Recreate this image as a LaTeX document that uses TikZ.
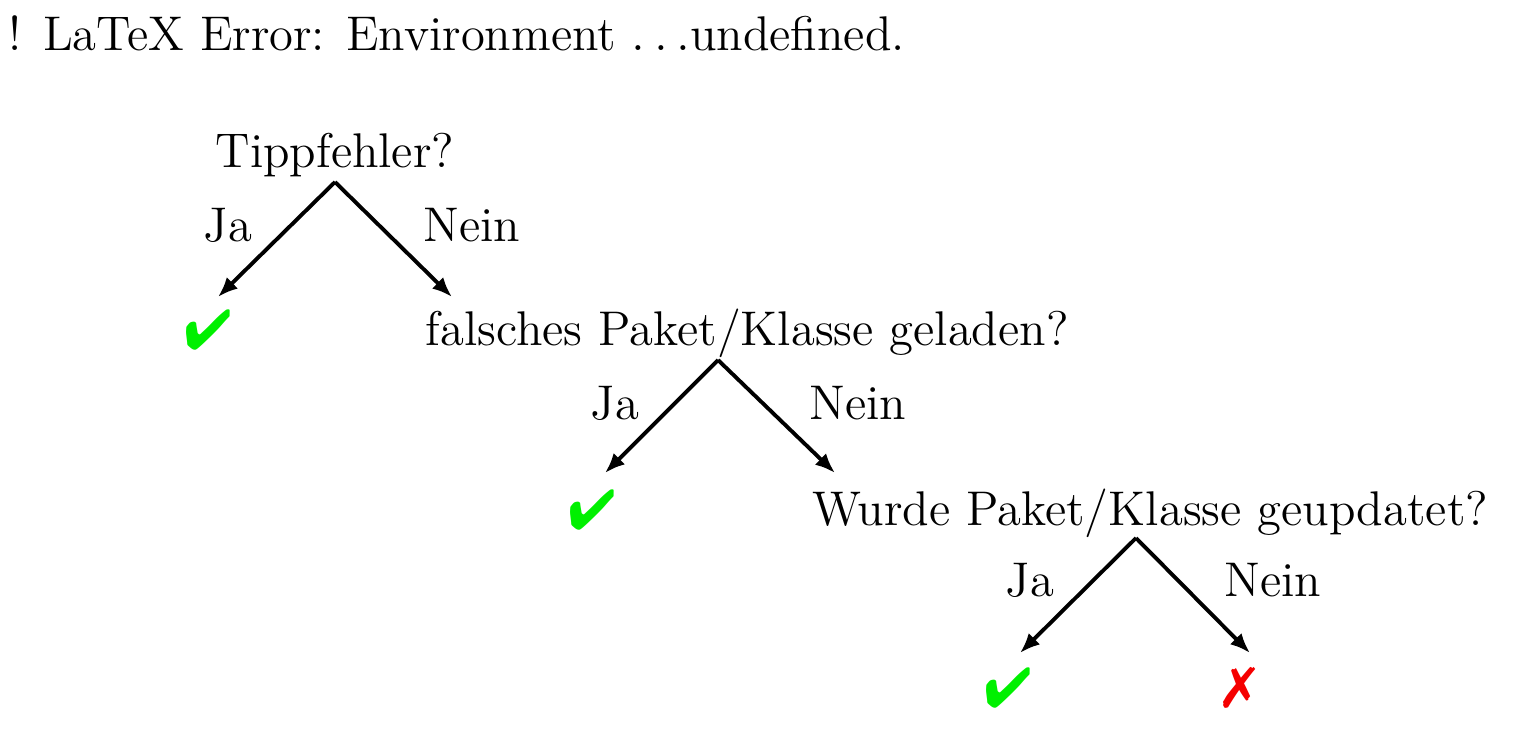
\documentclass[tikz,border=0pt]{standalone}
\usepackage{pifont}
\usetikzlibrary{arrows.meta,positioning}
\definecolor{okgreen}{RGB}{0,240,0}
\definecolor{badred}{RGB}{245,0,0}
\begin{document}
\begin{tikzpicture}[
    x=0.01cm, y=-0.01cm,
    >={Latex[length=2mm,width=1.6mm]}, % arrow head style
    every node/.style={font=\fontsize{13.85}{16}\selectfont, inner sep=0pt},
    branch/.style={->, line width=1.1pt},
    ok/.style={text=okgreen, font=\fontsize{16}{16}\selectfont},
    bad/.style={text=badred, font=\fontsize{16}{16}\selectfont}
    ]
    \useasboundingbox (0,0) rectangle (1527,733);

    \node[anchor=base west] (err) at (8,50) {! LaTeX Error: Environment $\ldots$undefined.};

    % first question
    \node (q1) at (335,155) {Tippfehler?};
    \coordinate (a1) at (335,182);
    \coordinate (y1) at (218,297);
    \coordinate (n1) at (452,297);
    \draw[branch] (a1) -- (y1);
    \draw[branch] (a1) -- (n1);
    \node (ja1) at (228,225) {Ja};
    \node (nein1) at (472,225) {Nein};
    \node[ok] (ok1) at (208,330) {\ding{52}};

    % second question
    \node[anchor=west] (q2) at (425,333) {falsches Paket/Klasse geladen?};
    \coordinate (a2) at (718,360);
    \coordinate (y2) at (605,473);
    \coordinate (n2) at (835,473);
    \draw[branch] (a2) -- (y2);
    \draw[branch] (a2) -- (n2);
    \node (ja2) at (615,403) {Ja};
    \node (nein2) at (858,403) {Nein};
    \node[ok] (ok2) at (592,510) {\ding{52}};

    % third question
    \node[anchor=west] (q3) at (812,513) {Wurde Paket/Klasse geupdatet?};
    \coordinate (a3) at (1136,538);
    \coordinate (y3) at (1020,653);
    \coordinate (n3) at (1250,653);
    \draw[branch] (a3) -- (y3);
    \draw[branch] (a3) -- (n3);
    \node (ja3) at (1030,580) {Ja};
    \node (nein3) at (1273,580) {Nein};
    \node[ok] (ok3) at (1008,688) {\ding{52}};
    \node[bad] (no3) at (1240,688) {\ding{55}};
\end{tikzpicture}
\end{document}
